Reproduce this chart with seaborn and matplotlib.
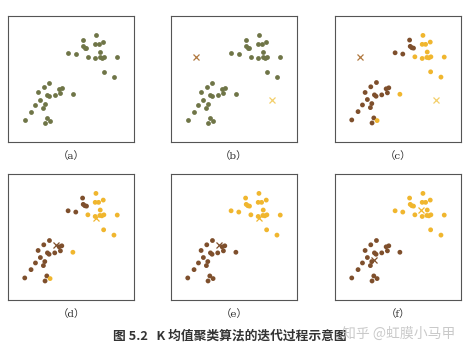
import matplotlib
matplotlib.use("Agg")
import matplotlib.pyplot as plt
import seaborn as sns
import pandas as pd

sns.set_style("white")
plt.rcParams['font.family'] = ['Noto Sans CJK SC', 'DejaVu Sans']

# sample points
xs = [69.8, 59.2, 75.6, 69.2, 71.9, 59.7, 61.0, 62.3, 47.7, 53.8, 73.2, 63.4, 69.2, 72.9, 74.5, 76.1, 86.7, 75.9, 84.1,
      32.9, 28.4, 42.7, 40.6, 23.9, 41.6, 31.3, 32.6, 37.1, 51.5, 25.7, 29.2, 21.8, 28.1, 18.3, 30.8, 33.4, 13.3, 29.4]
ys = [84.6, 80.9, 79.3, 77.5, 77.5, 75.9, 74.8, 74.5, 70.8, 69.8, 71.4, 67.6, 66.3, 67.1, 66.8, 67.6, 67.4, 55.7, 51.5,
      47.2, 43.8, 43.0, 42.2, 39.3, 39.0, 37.4, 36.3, 37.4, 37.9, 33.7, 30.5, 29.4, 27.3, 24.1, 19.1, 17.0, 17.5, 15.1]

# cluster labels per panel
labels_cd = [1, 0, 1, 1, 1, 0, 0, 0, 0, 0, 1, 1, 1, 1, 1, 1, 1, 1, 1,
             0, 0, 0, 0, 0, 0, 0, 0, 0, 1, 0, 0, 0, 0, 0, 0, 1, 0, 0]
labels_ef = [1] * 19 + [0] * 19

# centers per panel: (x0, y0, x1, y1)
centers_bc = [19.9, 67.1, 80.1, 33.7]
centers_de = [37.9, 44.0, 69.8, 64.7]
centers_f = [31.3, 31.8, 68.4, 71.6]

panel_names = ["（a）", "（b）", "（c）", "（d）", "（e）", "（f）"]
caption = "图 5.2   K 均值聚类算法的迭代过程示意图"
watermark = "知乎 @虹膜小马甲"

OLIVE = "#6f7547"
BROWN = "#7e4f2c"
YELLOW = "#f0b62e"
XBROWN = "#b0783f"
XYELLOW = "#f3cf6a"

panels = [
    (None, None, None),
    (None, centers_bc, (XBROWN, XYELLOW)),
    (labels_cd, centers_bc, (XBROWN, XYELLOW)),
    (labels_cd, centers_de, (BROWN, YELLOW)),
    (labels_ef, centers_de, (BROWN, YELLOW)),
    (labels_ef, centers_f, (BROWN, YELLOW)),
]

fig = plt.figure(figsize=(4.74, 3.5), dpi=100)
W, H = 474, 350
lefts = [8, 171, 335]
tops = [16, 174]
size = 126

for i, (labs, cen, xcols) in enumerate(panels):
    r, c = divmod(i, 3)
    ax = fig.add_axes([lefts[c] / W, 1 - (tops[r] + size) / H, size / W, size / H])
    df = pd.DataFrame({"x": xs, "y": ys})
    if labs is None:
        sns.scatterplot(data=df, x="x", y="y", color=OLIVE, s=12, linewidth=0, ax=ax)
    else:
        df["k"] = labs
        sns.scatterplot(data=df, x="x", y="y", hue="k", palette={0: BROWN, 1: YELLOW},
                        s=12, linewidth=0, ax=ax, legend=False)
    if cen is not None:
        ax.plot([cen[0]], [cen[1]], marker="x", color=xcols[0], markersize=5, mew=0.9, linestyle="none")
        ax.plot([cen[2]], [cen[3]], marker="x", color=xcols[1], markersize=5, mew=0.9, linestyle="none")
    ax.set_xlim(0, 100)
    ax.set_ylim(0, 100)
    ax.set_xticks([])
    ax.set_yticks([])
    ax.set_xlabel("")
    ax.set_ylabel("")
    for sp in ax.spines.values():
        sp.set_color("#555555")
        sp.set_linewidth(0.8)
    fig.text((lefts[c] + size / 2) / W, 1 - (tops[r] + size + 14) / H, panel_names[i],
             ha="center", va="center", fontsize=7.5, color="#333333",
             family=['DejaVu Serif', 'Noto Sans CJK SC'])

fig.text(230 / W, 1 - 336 / H, caption, ha="center", va="center", fontsize=9.2,
         fontweight="bold", color="#333333")
fig.text(399 / W, 1 - 334 / H, watermark, ha="center", va="center", fontsize=10,
         color="#c4c4c4", alpha=0.9)

fig.savefig("out.png", dpi=100)
